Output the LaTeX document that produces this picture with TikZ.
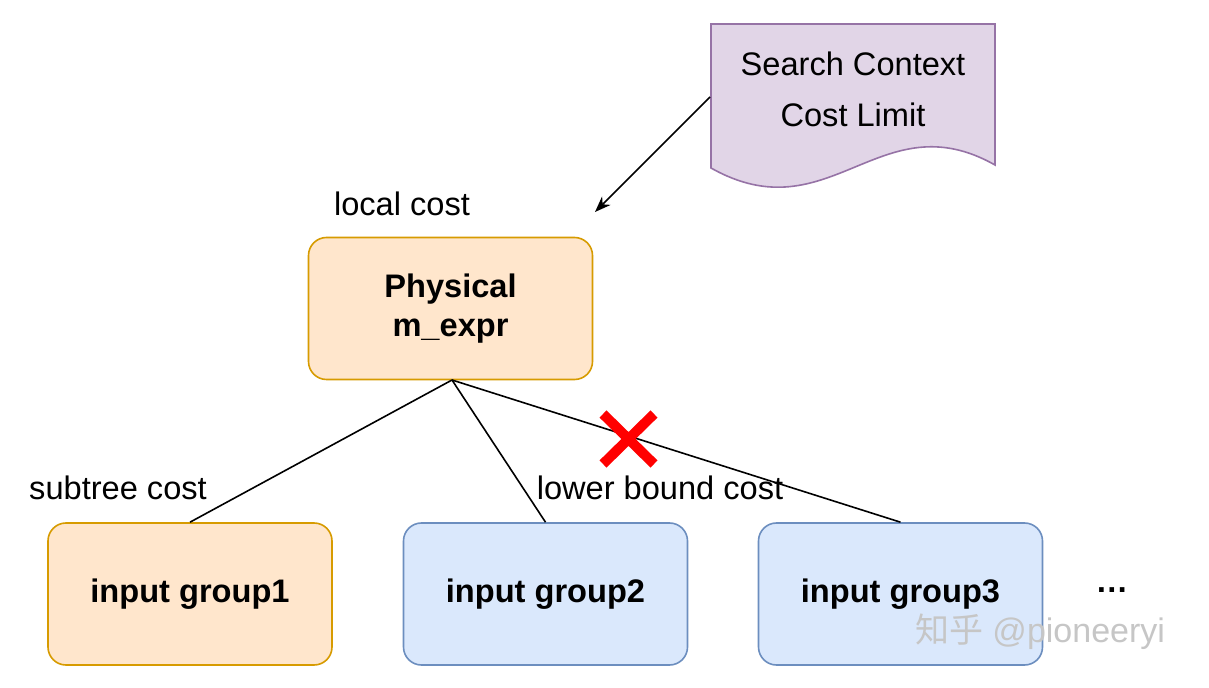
\documentclass[tikz,border=0pt]{standalone}
\usepackage{fontspec}
\setmainfont{Liberation Sans}
\newfontfamily\cjk{Noto Sans CJK SC}
\usetikzlibrary{arrows.meta}
\begin{document}
\begin{tikzpicture}[x=0.5pt,y=-0.5pt,
  box/.style={draw,rounded corners=9pt,line width=0.8pt,minimum width=142pt,minimum height=71pt,font=\fontsize{16.3}{19.5}\selectfont\bfseries,align=center},
  orange/.style={box,fill={rgb,255:red,255;green,230;blue,204},draw={rgb,255:red,215;green,155;blue,0}},
  blue/.style={box,fill={rgb,255:red,218;green,232;blue,252},draw={rgb,255:red,108;green,142;blue,191}},
  lbl/.style={font=\fontsize{16.3}{19.5}\selectfont},
  edge/.style={line width=0.8pt}]
\useasboundingbox (0,0) rectangle (1209,688);
\fill[white] (0,0) rectangle (1209,688);
% document shape
\draw[fill={rgb,255:red,225;green,213;blue,231},draw={rgb,255:red,150;green,115;blue,166},line width=0.8pt]
  (711,24) -- (995,24) -- (995,165) .. controls (880,100) and (830,235) .. (711,168) -- cycle;
\node[lbl,align=center] (doc) at (853,89) {Search Context\\[6pt]Cost Limit};
\coordinate (ds) at (710,97);
\coordinate (de) at (595,212);
\draw[edge,-{Stealth[length=8pt,width=6pt]}] (ds) -- (de);
\node[lbl] (lc) at (402,204) {local cost};
\node[orange] (phys) at (450.5,308.5) {Physical\\m\_expr};
\node[orange] (g1) at (190,594) {input group1};
\node[blue] (g2) at (545.5,594) {input group2};
\node[blue] (g3) at (900.5,594) {input group3};
\coordinate (pb) at (452,380);
\draw[edge] (pb) -- (g1.north);
\draw[edge] (pb) -- (g2.north);
\draw[edge] (pb) -- (g3.north);
\node[lbl] (st) at (118,488) {subtree cost};
\node[lbl] (lb) at (660,488) {lower bound cost};
\node[lbl] (dots) at (1112,590) {\textbf{\dots}};
\draw[red,line width=5pt] (603,414) -- (654,464) (654,414) -- (603,464);
\node[text=gray!45,font=\fontsize{17}{20}\selectfont] (wm) at (1040,632) {{\cjk 知乎} @pioneeryi};
\end{tikzpicture}
\end{document}
